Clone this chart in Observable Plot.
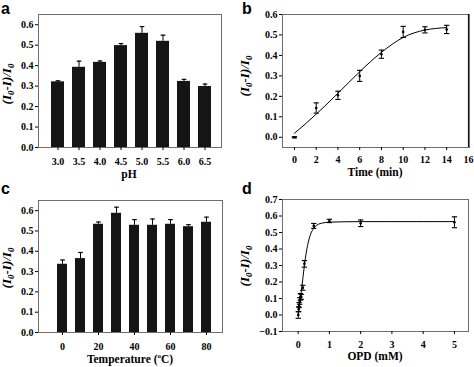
<!DOCTYPE html>
<html>
<head>
<meta charset="utf-8">
<script src="https://cdn.jsdelivr.net/npm/d3@7"></script>
<script src="https://cdn.jsdelivr.net/npm/@observablehq/plot@0.6"></script>
<style>
  body { margin: 0; background: #fff; }
  #wrap { position: relative; width: 474px; height: 367px; overflow: hidden; background: #fff; }
  .panel { position: absolute; }
  .letter { position: absolute; font-family: "Liberation Sans", Arial, sans-serif; font-weight: bold; font-size: 16px; color: #000; line-height: 1; }
  svg text { font-family: "Liberation Serif", "Times New Roman", "DejaVu Serif", serif; }
</style>
</head>
<body>
<div id="wrap">
  <div class="panel" id="pa" style="left:0;top:0"></div>
  <div class="panel" id="pc" style="left:0;top:184px"></div>
  <div class="panel" id="pd" style="left:237px;top:184px"></div>
  <div class="panel" id="pb" style="left:237px;top:0"></div>
  <div class="letter" style="left:1px;top:1px">a</div>
  <div class="letter" style="left:242px;top:1px">b</div>
  <div class="letter" style="left:1px;top:181px">c</div>
  <div class="letter" style="left:242px;top:181px">d</div>
</div>
<script>
// ---- Panel a: pH ----
const phLabels = ["3.0", "3.5", "4.0", "4.5", "5.0", "5.5", "6.0", "6.5"];
const phValues = [0.321, 0.392, 0.416, 0.498, 0.558, 0.519, 0.323, 0.298];
const phErrors = [0.005, 0.030, 0.007, 0.010, 0.033, 0.030, 0.010, 0.012];

// ---- Panel b: Time ----
const timeX = [0, 2, 4, 6, 8, 10, 12, 14];
const timeY = [0.0, 0.143, 0.205, 0.300, 0.406, 0.515, 0.525, 0.527];
const timeErr = [0.003, 0.025, 0.020, 0.027, 0.020, 0.027, 0.015, 0.020];
const timeFitX = [0, 1, 2, 3, 4, 5, 6, 7, 8, 9, 10, 11, 12, 13, 14];
const timeFitY = [0.020, 0.065, 0.113, 0.163, 0.215, 0.268, 0.320, 0.370, 0.415, 0.455, 0.488, 0.510, 0.524, 0.532, 0.536];

// ---- Panel c: Temperature ----
const tempLabels = [0, 10, 20, 30, 40, 50, 60, 70, 80];
const tempValues = [0.336, 0.364, 0.533, 0.587, 0.528, 0.528, 0.533, 0.521, 0.543];
const tempErrors = [0.021, 0.030, 0.011, 0.030, 0.028, 0.031, 0.023, 0.010, 0.025];
const tempTickLabels = [0, 20, 40, 60, 80];

// ---- Panel d: OPD ----
const opdX = [0.005, 0.02, 0.03, 0.05, 0.07, 0.10, 0.15, 0.20, 0.50, 1, 2, 5];
const opdY = [0.0, 0.035, 0.060, 0.085, 0.110, 0.110, 0.165, 0.310, 0.540, 0.570, 0.556, 0.562];
const opdErr = [0.020, 0.015, 0.015, 0.020, 0.020, 0.015, 0.015, 0.020, 0.015, 0.010, 0.020, 0.033];
const opdFitX = [0, 0.05, 0.1, 0.15, 0.2, 0.3, 0.4, 0.5, 0.6, 0.8, 1, 1.5, 2, 3, 4, 5];
const opdFitY = [0.0, 0.07, 0.14, 0.22, 0.30, 0.42, 0.49, 0.525, 0.545, 0.558, 0.563, 0.565, 0.566, 0.566, 0.566, 0.566];

const yTicks06 = [0, 0.1, 0.2, 0.3, 0.4, 0.5, 0.6];
const yTicksD = [-0.1, 0, 0.1, 0.2, 0.3, 0.4, 0.5, 0.6, 0.7];
const timeTicks = [0, 2, 4, 6, 8, 10, 12, 14];
const timeEdgeTicks = [16];
const opdTicks = [0, 1, 2, 3, 4, 5];

const serif = "'Liberation Serif', 'Times New Roman', 'DejaVu Serif', serif";
const cap = { draw(ctx, size) { const w = Math.sqrt(size); ctx.moveTo(-w, 0); ctx.lineTo(w, 0); } };
const style = { fontFamily: serif, fontSize: "10px", fontWeight: "bold", background: "transparent", overflow: "visible" };
const frameColor = "#6e6e6e";
const barFill = "#151515";

function yLabel(svg, x, y) {
  const t = d3.select(svg).append("text")
    .attr("transform", `translate(${x},${y}) rotate(-90)`)
    .attr("text-anchor", "middle")
    .attr("fill", "#000")
    .attr("font-family", serif)
    .attr("font-style", "italic")
    .attr("font-weight", "bold")
    .attr("font-size", "13px");
  t.append("tspan").text("(I");
  t.append("tspan").attr("dy", 3).attr("font-size", "9px").text("0");
  t.append("tspan").attr("dy", -3).text("-I)/I");
  t.append("tspan").attr("dy", 3).attr("font-size", "9px").text("0");
}
function xLabel(svg, x, y, parts) {
  const t = d3.select(svg).append("text")
    .attr("x", x).attr("y", y)
    .attr("text-anchor", "middle")
    .attr("fill", "#000")
    .attr("font-family", serif)
    .attr("font-weight", "bold")
    .attr("font-size", "11.5px");
  for (const p of parts) {
    const s = t.append("tspan").text(p.t);
    if (p.dy) s.attr("dy", p.dy);
    if (p.size) s.attr("font-size", p.size);
  }
}

// Panel a
const phData = phLabels.map((l, i) => ({ l, v: phValues[i], e: phErrors[i] }));
const a = Plot.plot({
  width: 237, height: 184,
  marginLeft: 38, marginRight: 16, marginTop: 14, marginBottom: 37,
  style,
  x: { type: "band", domain: phLabels, paddingInner: 0.4, paddingOuter: 0.557, align: 0.57 },
  y: { domain: [0, 0.65] },
  marks: [
    Plot.barY(phData, { x: "l", y: "v", fill: barFill }),
    Plot.ruleX(phData, { x: "l", y1: "v", y2: r => r.v + r.e, stroke: "#000", strokeWidth: 1 }),
    Plot.dot(phData, { x: "l", y: r => r.v + r.e, symbol: cap, r: 1.3, stroke: "#000", strokeWidth: 1.2 }),
    Plot.frame({ stroke: frameColor }),
    Plot.axisX({ tickSize: 3, tickPadding: 7, label: null }),
    Plot.axisY({ ticks: yTicks06, tickFormat: ".1f", tickSize: 3, tickPadding: 2, label: null })
  ]
});
document.getElementById("pa").append(a);
yLabel(a, 11, 84);
xLabel(a, 129, 178, [{ t: "pH" }]);

// Panel b
const timeData = timeX.map((x, i) => ({ x, y: timeY[i], e: timeErr[i] }));
const timeFit = timeFitX.map((x, i) => ({ x, y: timeFitY[i] }));
const b = Plot.plot({
  width: 237, height: 184,
  marginLeft: 45, marginRight: 5, marginTop: 14, marginBottom: 37,
  style,
  x: { domain: [-1.1, 16.1] },
  y: { domain: [-0.05, 0.6] },
  marks: [
    Plot.line(timeFit, { x: "x", y: "y", curve: "monotone-x", stroke: "#000", strokeWidth: 1 }),
    Plot.ruleX(timeData, { x: "x", y1: r => r.y - r.e, y2: r => r.y + r.e, stroke: "#000", strokeWidth: 1 }),
    Plot.dot(timeData, { x: "x", y: r => r.y + r.e, symbol: cap, r: 1.5, stroke: "#000", strokeWidth: 1.1 }),
    Plot.dot(timeData, { x: "x", y: r => r.y - r.e, symbol: cap, r: 1.5, stroke: "#000", strokeWidth: 1.1 }),
    Plot.dot(timeData, { x: "x", y: "y", r: 1.3, fill: "#000" }),
    Plot.frame({ stroke: frameColor }),
    Plot.axisX({ ticks: timeTicks, tickFormat: "d", tickSize: 3, tickPadding: 5, label: null }),
    Plot.tickX(timeEdgeTicks, { x: v => v, frameAnchor: "bottom", y1: -0.05, y2: -0.05, stroke: "#000" }),
    Plot.text(timeEdgeTicks, { x: v => v, text: v => String(v), frameAnchor: "bottom", lineAnchor: "top", dy: 8, fontWeight: "bold", fontSize: 10, fill: "#000" }),
    Plot.axisY({ ticks: yTicks06, tickFormat: ".1f", tickSize: 3, tickPadding: 2, label: null })
  ]
});
document.getElementById("pb").append(b);
yLabel(b, 12, 76);
xLabel(b, 138, 176, [{ t: "Time (min)" }]);

// Panel c
const tempData = tempLabels.map((l, i) => ({ l, v: tempValues[i], e: tempErrors[i] }));
const c = Plot.plot({
  width: 237, height: 183,
  marginLeft: 38, marginRight: 15, marginTop: 16, marginBottom: 35,
  style,
  x: { type: "band", domain: tempLabels, paddingInner: 0.43, paddingOuter: 0.6, align: 0.63 },
  y: { domain: [0, 0.65] },
  marks: [
    Plot.barY(tempData, { x: "l", y: "v", fill: barFill }),
    Plot.ruleX(tempData, { x: "l", y1: "v", y2: r => r.v + r.e, stroke: "#000", strokeWidth: 1 }),
    Plot.dot(tempData, { x: "l", y: r => r.v + r.e, symbol: cap, r: 1.3, stroke: "#000", strokeWidth: 1.2 }),
    Plot.frame({ stroke: frameColor }),
    Plot.axisX({ ticks: tempTickLabels, tickSize: 3, tickPadding: 7, label: null }),
    Plot.axisY({ ticks: yTicks06, tickFormat: ".1f", tickSize: 3, tickPadding: 2, label: null })
  ]
});
document.getElementById("pc").append(c);
yLabel(c, 11, 84);
xLabel(c, 130, 179, [{ t: "Temperature (" }, { t: "o", dy: -5, size: "7px" }, { t: "C)", dy: 5 }]);

// Panel d
const opdData = opdX.map((x, i) => ({ x, y: opdY[i], e: opdErr[i] }));
const opdFit = opdFitX.map((x, i) => ({ x, y: opdFitY[i] }));
const dPlot = Plot.plot({
  width: 237, height: 183,
  marginLeft: 45, marginRight: 6, marginTop: 15, marginBottom: 36,
  style,
  x: { domain: [-0.5, 5.45] },
  y: { domain: [-0.1, 0.7] },
  marks: [
    Plot.line(opdFit, { x: "x", y: "y", curve: "monotone-x", stroke: "#000", strokeWidth: 1 }),
    Plot.ruleX(opdData, { x: "x", y1: r => r.y - r.e, y2: r => r.y + r.e, stroke: "#000", strokeWidth: 1 }),
    Plot.dot(opdData, { x: "x", y: r => r.y + r.e, symbol: cap, r: 1.5, stroke: "#000", strokeWidth: 1.1 }),
    Plot.dot(opdData, { x: "x", y: r => r.y - r.e, symbol: cap, r: 1.5, stroke: "#000", strokeWidth: 1.1 }),
    Plot.dot(opdData, { x: "x", y: "y", r: 1.3, fill: "#000" }),
    Plot.frame({ stroke: frameColor }),
    Plot.axisX({ ticks: opdTicks, tickFormat: "d", tickSize: 3, tickPadding: 6, label: null }),
    Plot.axisY({ ticks: yTicksD, tickFormat: ".1f", tickSize: 3, tickPadding: 2, label: null })
  ]
});
document.getElementById("pd").append(dPlot);
yLabel(dPlot, 12, 82);
xLabel(dPlot, 138, 176, [{ t: "OPD (mM)" }]);
</script>
</body>
</html>
